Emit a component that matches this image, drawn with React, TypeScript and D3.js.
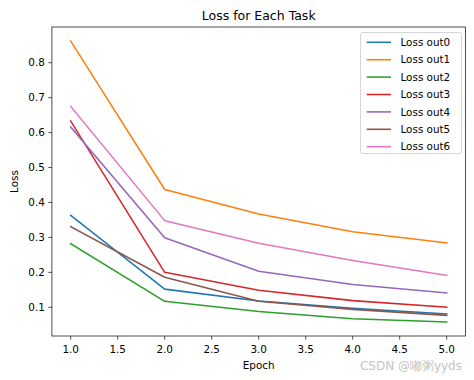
import React from "react";
import * as d3 from "d3";

const epochs = [1, 2, 3, 4, 5];
const seriesNames = ["Loss out0", "Loss out1", "Loss out2", "Loss out3", "Loss out4", "Loss out5", "Loss out6"];
const out0 = [0.363, 0.152, 0.118, 0.097, 0.081];
const out1 = [0.862, 0.437, 0.367, 0.316, 0.284];
const out2 = [0.282, 0.117, 0.088, 0.067, 0.058];
const out3 = [0.633, 0.200, 0.149, 0.119, 0.100];
const out4 = [0.616, 0.299, 0.203, 0.165, 0.141];
const out5 = [0.331, 0.186, 0.117, 0.094, 0.077];
const out6 = [0.675, 0.348, 0.283, 0.234, 0.191];
const seriesValues = [out0, out1, out2, out3, out4, out5, out6];
const colors = ["#1f77b4", "#ff7f0e", "#2ca02c", "#d62728", "#9467bd", "#8c564b", "#e377c2"];
const xTicks = [1.0, 1.5, 2.0, 2.5, 3.0, 3.5, 4.0, 4.5, 5.0];
const yTicks = [0.1, 0.2, 0.3, 0.4, 0.5, 0.6, 0.7, 0.8];

const W = 474, H = 380;
const left = 51.9, right = 465.5, top = 27, bottom = 336;
const font = "DejaVu Sans, sans-serif";

export default function App() {
  const all = seriesValues.flat();
  const yMin = d3.min(all)!, yMax = d3.max(all)!;
  const yPad = (yMax - yMin) * 0.05;
  const x = d3.scaleLinear().domain([0.8, 5.2]).range([left, right]);
  const y = d3.scaleLinear().domain([yMin - yPad, yMax + yPad]).range([bottom, top]);
  const line = d3.line<number>().x((_, i) => x(epochs[i])).y((v) => y(v));

  const legX = 360.5, legY = 32.5, legW = 101, legH = 121, rowH = 17.4;

  return (
    <svg width={W} height={H} style={{ position: "absolute", left: 0, top: 0, background: "#fff" }}>
      <rect x={0} y={0} width={W} height={H} fill="#fff" />
      <text x={(left + right) / 2} y={19.5} textAnchor="middle" fontFamily={font} fontSize={12.5} fill="#000">
        Loss for Each Task
      </text>
      {seriesValues.map((s, i) => (
        <path key={i} d={line(s)!} fill="none" stroke={colors[i]} strokeWidth={1.55} strokeLinejoin="round" strokeLinecap="square" />
      ))}
      <rect x={left} y={top} width={right - left} height={bottom - top} fill="none" stroke="#222" strokeWidth={0.8} />
      {xTicks.map((t) => (
        <g key={t}>
          <line x1={x(t)} x2={x(t)} y1={bottom} y2={bottom + 3.6} stroke="#222" strokeWidth={0.8} />
          <text x={x(t)} y={353} textAnchor="middle" fontFamily={font} fontSize={10.4} fill="#000">
            {t.toFixed(1)}
          </text>
        </g>
      ))}
      {yTicks.map((t) => (
        <g key={t}>
          <line x1={left - 3.6} x2={left} y1={y(t)} y2={y(t)} stroke="#222" strokeWidth={0.8} />
          <text x={left - 7} y={y(t) + 3.7} textAnchor="end" fontFamily={font} fontSize={10.4} fill="#000">
            {t.toFixed(1)}
          </text>
        </g>
      ))}
      <text x={(left + right) / 2} y={368.5} textAnchor="middle" fontFamily={font} fontSize={10.4} fill="#000">
        Epoch
      </text>
      <text transform={`translate(17.5, ${(top + bottom) / 2}) rotate(-90)`} textAnchor="middle" fontFamily={font} fontSize={10.4} fill="#000">
        Loss
      </text>
      <rect x={legX} y={legY} width={legW} height={legH} rx={2} fill="#fff" fillOpacity={0.8} stroke="#ccc" strokeWidth={0.8} />
      {seriesNames.map((n, i) => {
        const ry = 42.3 + i * rowH;
        return (
          <g key={n}>
            <line x1={366.7} x2={391} y1={ry} y2={ry} stroke={colors[i]} strokeWidth={1.55} />
            <text x={400.5} y={ry + 3.7} fontFamily={font} fontSize={10.4} fill="#000">
              {n}
            </text>
          </g>
        );
      })}
      <text x={462} y={370} textAnchor="end" fontFamily={font} fontSize={12} fill="#c4c4c4">
        CSDN @嘟粥yyds
      </text>
    </svg>
  );
}
